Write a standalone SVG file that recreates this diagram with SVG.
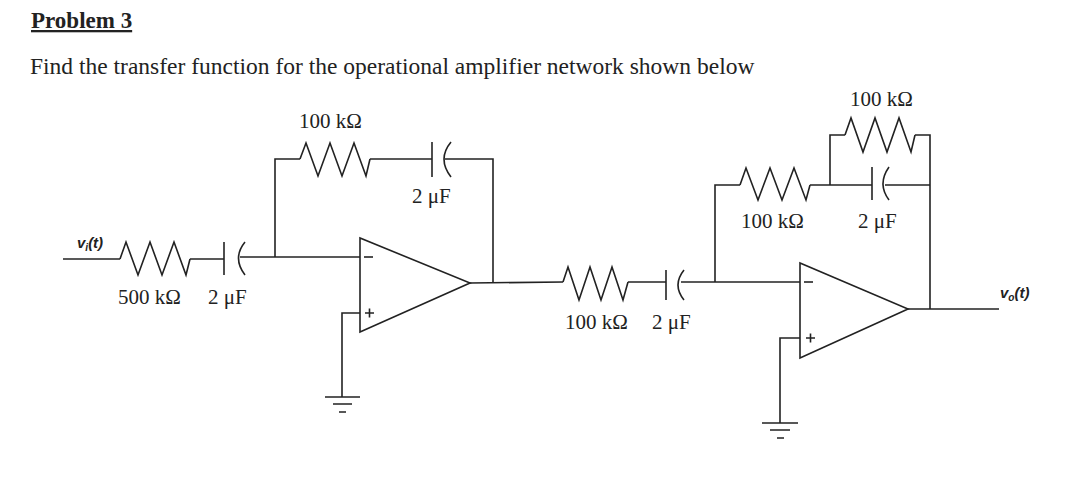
<svg xmlns="http://www.w3.org/2000/svg" width="1071" height="504" viewBox="0 0 1071 504">
<style>
.w{fill:none;stroke:#222;stroke-width:1.6;stroke-linejoin:miter}
.t{font-family:"Liberation Serif",serif;fill:#222}
.l{font-size:21px}
.s{font-family:"Liberation Sans",sans-serif;font-weight:bold;font-style:italic;font-size:15px;fill:#222}
</style>
<rect width="1071" height="504" fill="#fff"/>
<text class="t" x="31" y="28" font-size="23" font-weight="bold" text-decoration="underline">Problem 3</text>
<text class="t" x="30" y="74" font-size="23.5">Find the transfer function for the operational amplifier network shown below</text>
<g id="connectors">
<polyline class="w" points="63,259 120,259"/>
<polyline class="w" points="190,259 224,259"/>
<polyline class="w" points="240,257 360,257"/>
<polyline class="w" points="275,257 275,159 300,159"/>
<polyline class="w" points="370,159 432,159"/>
<polyline class="w" points="445,159 493,159 493,283"/>
<polyline class="w" points="470,283 563,282"/>
<polyline class="w" points="342,397 342,313 360,313"/>
<polyline class="w" points="628,282 666,282"/>
<polyline class="w" points="681,282 800,282"/>
<polyline class="w" points="715,282 715,185 740,185"/>
<polyline class="w" points="810,185 872,185"/>
<polyline class="w" points="885,185 930,185"/>
<polyline class="w" points="830,185 830,135 845,135"/>
<polyline class="w" points="915,135 930,135 930,309"/>
<polyline class="w" points="908,309 999,309"/>
<polyline class="w" points="780,423 780,338 800,338"/>
</g>
<g id="r1"><polyline class="w" points="120,259 126,242 138,275 150,242 162,275 174,242 186,275 190,259"/></g>
<g id="c1"><line class="w" x1="224" y1="242" x2="224" y2="275"/><path class="w" d="M245,242 Q232,258 245,275"/></g>
<g id="r2"><polyline class="w" points="300,159 306,143 318,176 330,143 342,176 354,143 366,176 370,159"/></g>
<g id="c2"><line class="w" x1="432" y1="142" x2="432" y2="177"/><path class="w" d="M451,142 Q437,159 451,177"/></g>
<g id="opamp1"><polygon class="w" points="360,238 360,332 470,283"/><line class="w" x1="364" y1="257" x2="373" y2="257"/><path class="w" d="M365,313 h9 M369.5,308.5 v9"/></g>
<g id="gnd1"><path class="w" d="M325,397 h35 M333,404 h19 M339,412 h7"/></g>
<g id="r3"><polyline class="w" points="563,282 568,267 579,300 590,267 601,300 612,267 623,300 628,282"/></g>
<g id="c3"><line class="w" x1="666" y1="270" x2="666" y2="300"/><path class="w" d="M684,270 Q672,285 684,300"/></g>
<g id="r4"><polyline class="w" points="740,185 746,168 758,200 770,168 782,200 794,168 806,200 810,185"/></g>
<g id="c4"><line class="w" x1="872" y1="167" x2="872" y2="200"/><path class="w" d="M889,167 Q877,184 889,200"/></g>
<g id="r5"><polyline class="w" points="845,135 851,118 863,152 875,118 887,152 899,118 911,152 915,135"/></g>
<g id="opamp2"><polygon class="w" points="800,263 800,358 908,309"/><line class="w" x1="804" y1="282" x2="813" y2="282"/><path class="w" d="M806,338 h9 M810.5,333.5 v9"/></g>
<g id="gnd2"><path class="w" d="M762,423 h36 M770,430 h20 M777,438 h7"/></g>
<g id="labels">
<text class="s" x="77" y="248">v<tspan font-size="10" dy="3">i</tspan><tspan dy="-3">(t)</tspan></text>
<text class="t l" x="118" y="304">500 kΩ</text>
<text class="t l" x="208" y="304">2 μF</text>
<text class="t l" x="299" y="128">100 kΩ</text>
<text class="t l" x="412" y="203">2 μF</text>
<text class="t l" x="565" y="329">100 kΩ</text>
<text class="t l" x="652" y="329">2 μF</text>
<text class="t l" x="850" y="106">100 kΩ</text>
<text class="t l" x="741" y="228">100 kΩ</text>
<text class="t l" x="858" y="228">2 μF</text>
<text class="s" x="1000" y="298">v<tspan font-size="10" dy="3">o</tspan><tspan dy="-3">(t)</tspan></text>
</g>
</svg>
